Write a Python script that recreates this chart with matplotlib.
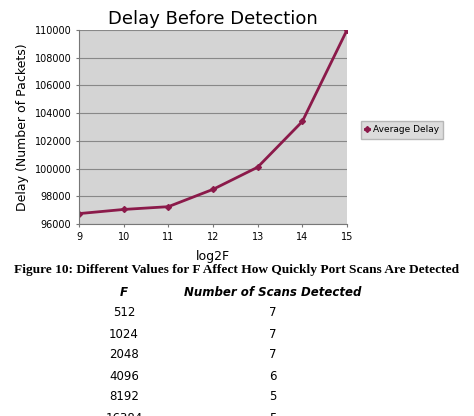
import matplotlib
matplotlib.use("Agg")
import matplotlib.pyplot as plt

log2F = [9, 10, 11, 12, 13, 14, 15]
avg_delay = [96750, 97050, 97250, 98500, 100100, 103400, 110000]
table_F = ["512", "1024", "2048", "4096", "8192", "16384"]
table_scans = ["7", "7", "7", "6", "5", "5"]

W, H = 474, 416
fig = plt.figure(figsize=(W/100, H/100), dpi=100)
fig.patch.set_facecolor("white")
ax = fig.add_axes([79/W, 1-224/H, (347-79)/W, (224-30)/H])
ax.set_facecolor("#d4d4d4")
ax.plot(log2F, avg_delay, color="#8b1a4a", lw=2, marker="D", ms=3, label="Average Delay")
ax.set_xlim(9, 15)
ax.set_ylim(96000, 110000)
ax.set_yticks(range(96000, 110001, 2000))
ax.set_xticks(log2F)
ax.yaxis.grid(True, color="#888888", lw=0.8)
ax.set_axisbelow(True)
for s in ["top", "right"]:
    ax.spines[s].set_visible(False)
ax.spines["left"].set_color("#777777")
ax.spines["bottom"].set_color("#777777")
ax.tick_params(labelsize=7, length=2, color="#777777")
ax.set_ylabel("Delay (Number of Packets)", fontsize=9)
ax.set_xlabel("log2F", fontsize=9, labelpad=6)
ax.set_title("Delay Before Detection", fontsize=13, pad=4)
leg = fig.legend(loc="center", bbox_to_anchor=(402/W, 1-130/H), fontsize=6.5,
                 frameon=True, fancybox=False, handlelength=0.5, handletextpad=0.4,
                 borderpad=0.45)
leg.get_frame().set_facecolor("#d4d4d4")
leg.get_frame().set_edgecolor("#aaaaaa")

fig.text(0.5, 1-270/H, "Figure 10: Different Values for F Affect How Quickly Port Scans Are Detected",
         ha="center", va="center", fontsize=9.6, fontweight="bold", family="Liberation Serif")
fig.text(124/W, 1-292/H, "F", ha="center", va="center", fontsize=8.5, fontweight="bold", style="italic")
fig.text(273/W, 1-292/H, "Number of Scans Detected", ha="center", va="center", fontsize=8.5,
         fontweight="bold", style="italic")
for i, (f, n) in enumerate(zip(table_F, table_scans)):
    y = 1 - (313 + i*21)/H
    fig.text(124/W, y, f, ha="center", va="center", fontsize=8.5)
    fig.text(273/W, y, n, ha="center", va="center", fontsize=8.5)
fig.savefig("out.png", dpi=100)
